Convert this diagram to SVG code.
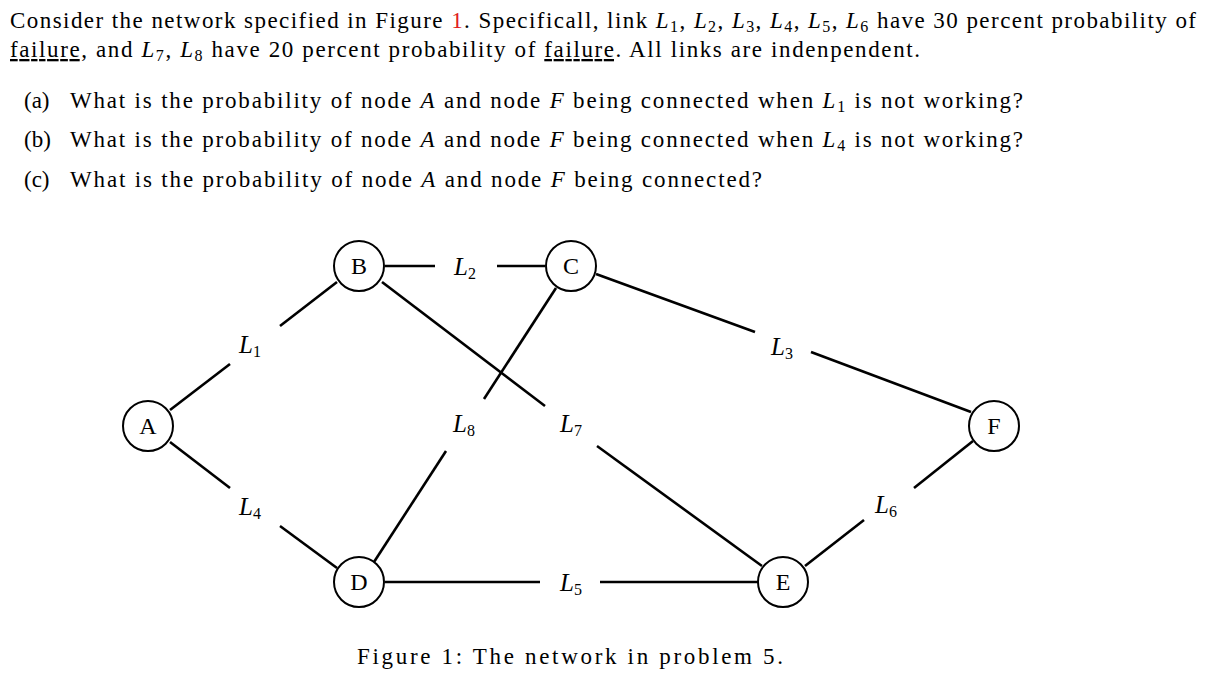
<svg xmlns="http://www.w3.org/2000/svg" width="1224" height="688" viewBox="0 0 1224 688">
<style>
text{font-family:"Liberation Serif","DejaVu Serif",serif;font-size:23px;fill:#000}
.m{font-style:italic}
.s{font-size:16px;font-style:normal}
.n circle{fill:#fff;stroke:#000;stroke-width:2}
.n text{text-anchor:middle;font-size:24px}
#edges line{stroke:#000;stroke-width:2.6}
.l{text-anchor:middle;font-style:italic;font-size:25px}
</style>
<rect width="1224" height="688" fill="#fff"/>
<text x="10" y="28" textLength="1186" lengthAdjust="spacing">Consider the network specified in Figure <tspan fill="#e02020">1</tspan>. Specificall, link <tspan class="m">L</tspan><tspan class="s" dy="4">1</tspan><tspan dy="-4">, </tspan><tspan class="m">L</tspan><tspan class="s" dy="4">2</tspan><tspan dy="-4">, </tspan><tspan class="m">L</tspan><tspan class="s" dy="4">3</tspan><tspan dy="-4">, </tspan><tspan class="m">L</tspan><tspan class="s" dy="4">4</tspan><tspan dy="-4">, </tspan><tspan class="m">L</tspan><tspan class="s" dy="4">5</tspan><tspan dy="-4">, </tspan><tspan class="m">L</tspan><tspan class="s" dy="4">6</tspan><tspan dy="-4"> have 30 percent probability of</tspan></text>
<text x="10" y="57" textLength="910" lengthAdjust="spacing"><tspan text-decoration="underline">failure</tspan>, and <tspan class="m">L</tspan><tspan class="s" dy="4">7</tspan><tspan dy="-4">, </tspan><tspan class="m">L</tspan><tspan class="s" dy="4">8</tspan><tspan dy="-4"> have 20 percent probability of </tspan><tspan text-decoration="underline">failure</tspan>. All links are indenpendent.</text>
<text x="24" y="108">(a)</text>
<text x="24" y="147">(b)</text>
<text x="24" y="187">(c)</text>
<text x="70" y="108" textLength="953" lengthAdjust="spacing">What is the probability of node <tspan class="m">A</tspan> and node <tspan class="m">F</tspan> being connected when <tspan class="m">L</tspan><tspan class="s" dy="4">1</tspan><tspan dy="-4"> is not working?</tspan></text>
<text x="70" y="147" textLength="953" lengthAdjust="spacing">What is the probability of node <tspan class="m">A</tspan> and node <tspan class="m">F</tspan> being connected when <tspan class="m">L</tspan><tspan class="s" dy="4">4</tspan><tspan dy="-4"> is not working?</tspan></text>
<text x="70" y="187" textLength="692" lengthAdjust="spacing">What is the probability of node <tspan class="m">A</tspan> and node <tspan class="m">F</tspan> being connected?</text>
<g id="edges">
<line x1="170" y1="410" x2="230" y2="364"/><line x1="280" y1="326" x2="337" y2="282"/>
<line x1="385" y1="266" x2="435" y2="266"/><line x1="497" y1="266" x2="545" y2="266"/>
<line x1="382" y1="282" x2="545" y2="406"/><line x1="597" y1="446" x2="762" y2="566"/>
<line x1="556" y1="288" x2="484" y2="399"/><line x1="446" y1="451" x2="374" y2="562"/>
<line x1="596" y1="274" x2="755" y2="332"/><line x1="811" y1="352" x2="971" y2="412"/>
<line x1="170" y1="442" x2="230" y2="488"/><line x1="280" y1="526" x2="337" y2="568"/>
<line x1="385" y1="582" x2="540" y2="582"/><line x1="600" y1="582" x2="760" y2="582"/>
<line x1="805" y1="566" x2="864" y2="520"/><line x1="914" y1="488" x2="973" y2="441"/>
<text class="l" x="250" y="353">L<tspan class="s" dy="4">1</tspan></text>
<text class="l" x="465" y="275">L<tspan class="s" dy="4">2</tspan></text>
<text class="l" x="782" y="355">L<tspan class="s" dy="4">3</tspan></text>
<text class="l" x="250" y="515">L<tspan class="s" dy="4">4</tspan></text>
<text class="l" x="571" y="591">L<tspan class="s" dy="4">5</tspan></text>
<text class="l" x="886" y="513">L<tspan class="s" dy="4">6</tspan></text>
<text class="l" x="571" y="432">L<tspan class="s" dy="4">7</tspan></text>
<text class="l" x="464" y="432">L<tspan class="s" dy="4">8</tspan></text>
</g>
<g id="nA" class="n"><circle cx="148" cy="426" r="25"/><text x="148" y="434">A</text></g>
<g id="nB" class="n"><circle cx="359" cy="266" r="25"/><text x="359" y="274">B</text></g>
<g id="nC" class="n"><circle cx="571" cy="266" r="25"/><text x="571" y="274">C</text></g>
<g id="nD" class="n"><circle cx="359" cy="582" r="25"/><text x="359" y="590">D</text></g>
<g id="nE" class="n"><circle cx="783" cy="582" r="25"/><text x="783" y="590">E</text></g>
<g id="nF" class="n"><circle cx="994" cy="426" r="25"/><text x="994" y="434">F</text></g>
<text x="357" y="664" textLength="426" lengthAdjust="spacing">Figure 1:  The network in problem 5.</text>
</svg>
